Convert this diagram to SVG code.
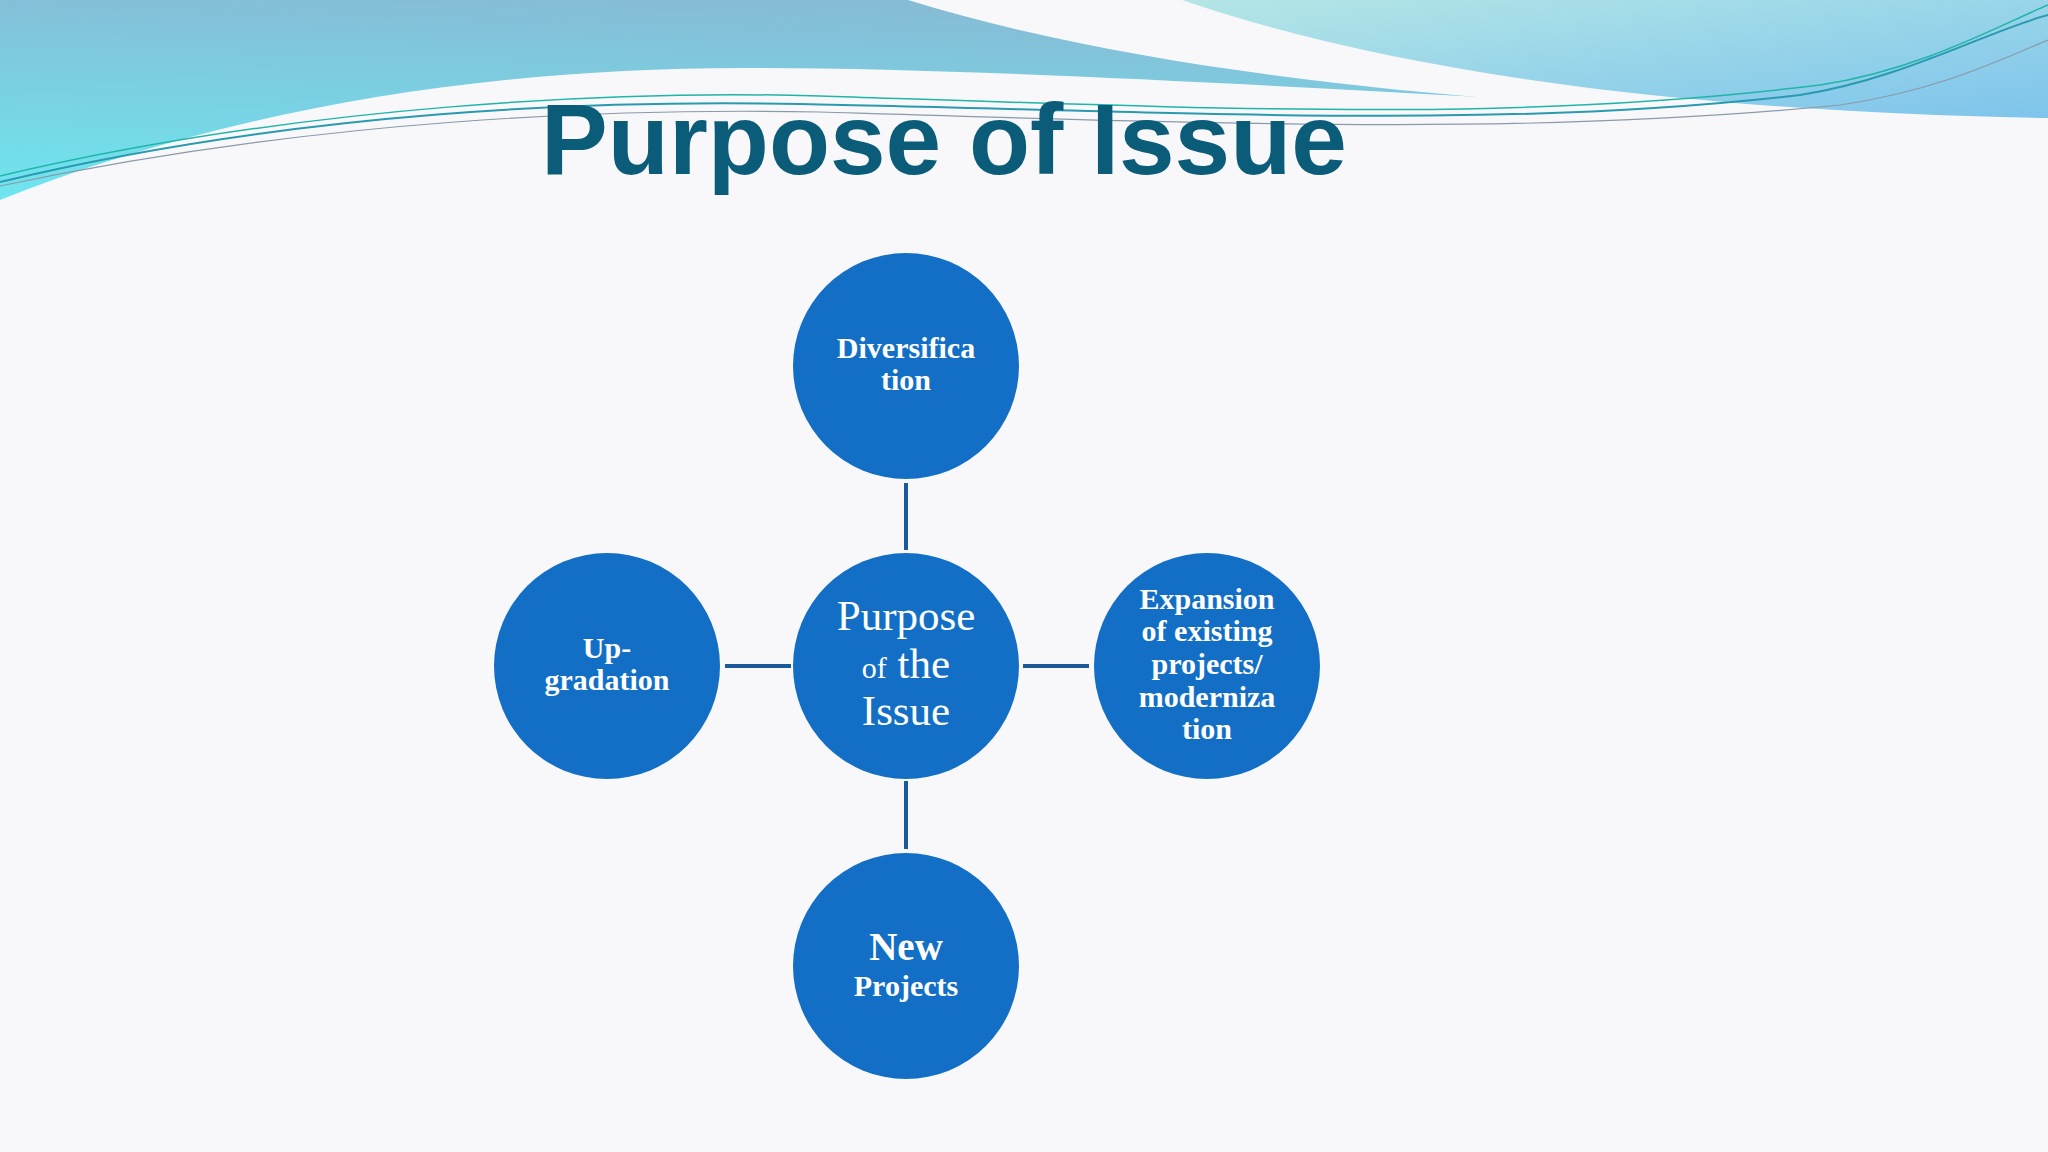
<svg xmlns="http://www.w3.org/2000/svg" width="2048" height="1152" viewBox="0 0 2048 1152">
<defs>
<linearGradient id="ga" x1="0" y1="1" x2="0.3" y2="0"><stop offset="0" stop-color="#6EE6F0"/><stop offset="1" stop-color="#86BCD6"/></linearGradient>
<linearGradient id="gb" x1="0" y1="0" x2="1" y2="1"><stop offset="0" stop-color="#B4E6E6"/><stop offset="1" stop-color="#7EC4EC"/></linearGradient>
<style>
.n{fill:#136FC6}
.t{font-family:"Liberation Serif",serif;fill:#fff;text-anchor:middle;font-weight:bold;font-size:30px}
.c{stroke:#1A5A96;stroke-width:4;fill:none}
</style>
</defs>
<rect width="2048" height="1152" fill="#F8F8FA"/>
<path d="M0,0 H2048 V122 C1600,110 1100,68 745,68 C450,68 200,120 0,200 Z" fill="url(#ga)"/>
<path d="M908,0 C1200,90 1600,112 2048,128 V0 Z" fill="#F8F8FA"/>
<path d="M1182,0 C1400,75 1700,112 2048,118 V0 Z" fill="url(#gb)"/>
<path d="M0,182 C300,110 600,100 800,104 C1200,112 1500,130 1800,95 C1900,80 1990,30 2048,15" fill="none" stroke="#2A9AB0" stroke-width="2"/>
<path d="M0,176 C300,105 620,90 820,96 C1250,110 1520,122 1820,85 C1920,70 2000,25 2048,5" fill="none" stroke="#1FB5A8" stroke-width="1.5"/>
<path d="M0,186 C320,118 620,108 820,112 C1250,125 1540,135 1840,105 C1940,90 2000,60 2048,40" fill="none" stroke="#8A9AA8" stroke-width="1.2"/>
<text x="944" y="174" font-family="Liberation Sans,Arial,sans-serif" font-weight="bold" font-size="100" fill="#0B5C78" text-anchor="middle">Purpose of Issue</text>
<g id="connectors">
<line class="c" x1="906" y1="483" x2="906" y2="550"/>
<line class="c" x1="906" y1="781" x2="906" y2="849"/>
<line class="c" x1="725" y1="666" x2="791" y2="666"/>
<line class="c" x1="1023" y1="666" x2="1089" y2="666"/>
</g>
<g id="center"><circle class="n" cx="906" cy="666" r="113"/>
<text class="t" style="font-weight:normal"><tspan x="906" y="630" font-size="43">Purpose</tspan><tspan x="906" y="678" font-size="43"><tspan font-size="30">of</tspan> the</tspan><tspan x="906" y="725" font-size="43">Issue</tspan></text></g>
<g id="top"><circle class="n" cx="906" cy="366" r="113"/>
<text class="t"><tspan x="906" y="358">Diversifica</tspan><tspan x="906" y="390">tion</tspan></text></g>
<g id="left"><circle class="n" cx="607" cy="666" r="113"/>
<text class="t"><tspan x="607" y="658">Up-</tspan><tspan x="607" y="690">gradation</tspan></text></g>
<g id="right"><circle class="n" cx="1207" cy="666" r="113"/>
<text class="t"><tspan x="1207" y="609">Expansion</tspan><tspan x="1207" y="641">of existing</tspan><tspan x="1207" y="674">projects/</tspan><tspan x="1207" y="707">moderniza</tspan><tspan x="1207" y="739">tion</tspan></text></g>
<g id="bottom"><circle class="n" cx="906" cy="966" r="113"/>
<text class="t"><tspan x="906" y="960" font-size="39">New</tspan><tspan x="906" y="996">Projects</tspan></text></g>
</svg>
